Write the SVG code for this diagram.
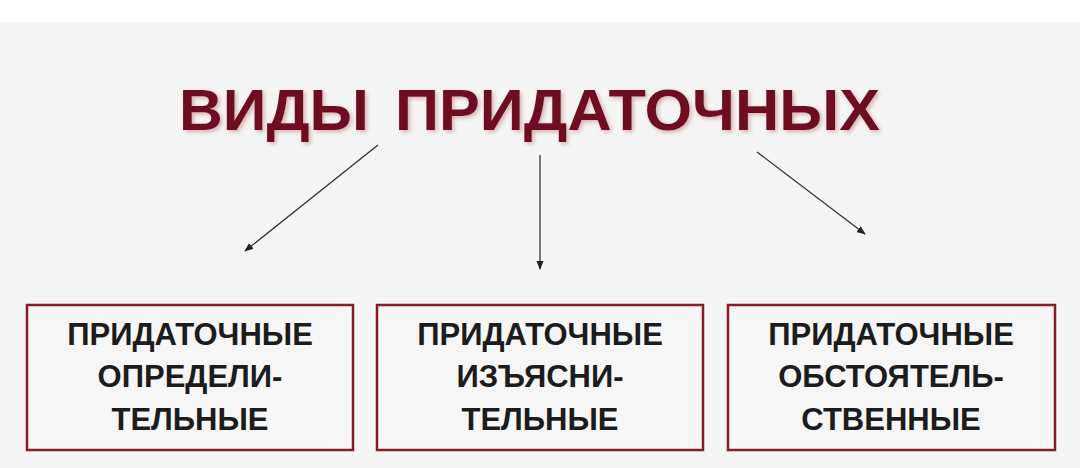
<svg xmlns="http://www.w3.org/2000/svg" width="1080" height="468" viewBox="0 0 1080 468">
<defs>
<style>
.t{font-family:"Liberation Sans",Arial,sans-serif;font-weight:bold;}
.box{fill:#f6f6f6;stroke:#8a1c26;stroke-width:2.5}
.bt{font-size:31px;fill:#1c1c1c;text-anchor:middle}
.c{stroke:#333;stroke-width:1.3;fill:none;marker-end:url(#a)}
</style>
<marker id="a" viewBox="0 0 10 10" refX="9" refY="5" markerWidth="7" markerHeight="7" orient="auto"><path d="M0,1 L10,5 L0,9 z" fill="#222"/></marker>
<filter id="s" x="-5%" y="-20%" width="110%" height="140%"><feDropShadow dx="2" dy="2" stdDeviation="2" flood-color="#c08080" flood-opacity="0.6"/></filter>
</defs>
<rect width="1080" height="468" fill="#f5f5f5"/>
<rect width="1080" height="22" fill="#ffffff"/>
<g id="title" class="t" font-size="58" fill="#6e1020" filter="url(#s)">
<text x="179" y="130" textLength="190" lengthAdjust="spacingAndGlyphs">ВИДЫ</text>
<text x="395" y="130" textLength="485" lengthAdjust="spacingAndGlyphs">ПРИДАТОЧНЫХ</text>
</g>
<g id="connectors">
<line class="c" x1="378" y1="145" x2="245" y2="251"/>
<line class="c" x1="540" y1="155" x2="540" y2="269"/>
<line class="c" x1="757" y1="152" x2="865" y2="234"/>
</g>
<g id="n1"><rect class="box" x="27" y="305" width="326" height="145"/>
<text class="t bt" x="190" y="345">ПРИДАТОЧНЫЕ</text><text class="t bt" x="190" y="387">ОПРЕДЕЛИ-</text><text class="t bt" x="190" y="430">ТЕЛЬНЫЕ</text></g>
<g id="n2"><rect class="box" x="377" y="305" width="326" height="145"/>
<text class="t bt" x="540" y="345">ПРИДАТОЧНЫЕ</text><text class="t bt" x="540" y="387">ИЗЪЯСНИ-</text><text class="t bt" x="540" y="430">ТЕЛЬНЫЕ</text></g>
<g id="n3"><rect class="box" x="728" y="305" width="327" height="145"/>
<text class="t bt" x="891" y="345">ПРИДАТОЧНЫЕ</text><text class="t bt" x="891" y="387">ОБСТОЯТЕЛЬ-</text><text class="t bt" x="891" y="430">СТВЕННЫЕ</text></g>
</svg>
